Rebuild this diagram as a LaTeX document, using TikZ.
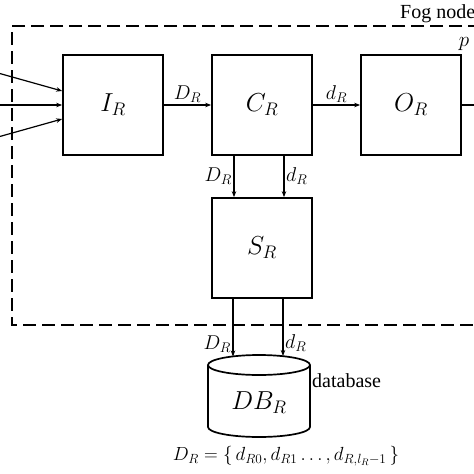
\RequirePackage{fix-cm}
\documentclass[tikz,border=0pt]{standalone}
\usepackage{fontspec}
\setmainfont{Liberation Serif}
\usetikzlibrary{arrows.meta}
\begin{document}
\begin{tikzpicture}[x=1pt,y=-1pt,
  blk/.style={draw,line width=1.7pt,minimum width=100pt,minimum height=100pt,inner sep=0pt,font=\fontsize{26}{28}\selectfont},
  arr/.style={line width=1.2pt,-{Stealth[length=6pt,width=4.5pt]}},
  lbl/.style={font=\fontsize{20}{22}\selectfont,inner sep=1.5pt},
  fence/.style={line width=1.8pt,dash pattern=on 13pt off 6pt}]
\useasboundingbox (0,0) rectangle (474,474);
\clip (0,0) rectangle (474,474);
% fog node frame
\draw[fence] (500,26) -- (12,26) -- (12,325) -- (500,325);
\node[anchor=base west,font=\fontsize{20}{22}\selectfont,inner sep=0pt] (fog) at (400,18) {Fog node};
% blocks
\node[blk] (I) at (113,105) {$I_R$};
\node[blk] (C) at (262,105) {$C_R$};
\node[blk] (O) at (411,105) {$O_R$};
\node[blk] (S) at (262,248) {$S_R$};
\node[anchor=south,font=\fontsize{21}{23}\selectfont,inner sep=1pt] (p) at (464,52) {$p$};
% inputs
\coordinate (in1) at (-2,73);
\coordinate (in2) at (-2,105);
\coordinate (in3) at (-2,137);
\draw[arr] (in1) -- ([yshift=14pt]I.west);
\draw[arr] (in2) -- (I.west);
\draw[arr] (in3) -- ([yshift=-14pt]I.west);
% horizontal flow
\draw[arr] (I.east) -- node[lbl,above] {$D_R$} (C.west);
\draw[arr] (C.east) -- node[lbl,above] {$d_R$} (O.west);
\coordinate (out) at (490,105);
\draw[line width=1.2pt] (O.east) -- (out);
% C to S
\coordinate (xa) at (234,0);
\coordinate (xb) at (284,0);
\draw[arr] (C.south -| xa) -- node[lbl,left] {$D_R$} (S.north -| xa);
\draw[arr] (C.south -| xb) -- node[lbl,right] {$d_R$} (S.north -| xb);
% database cylinder
\coordinate (dbc) at (259,365);
\draw[line width=1.7pt] (208,365) -- (208,427) arc[start angle=180,end angle=360,x radius=51,y radius=-10] -- (310,365);
\draw[line width=1.7pt] (dbc) ellipse[x radius=51,y radius=10];
\node[font=\fontsize{26}{28}\selectfont] (db) at (259,403) {$DB_R$};
\coordinate (da) at (233,356.5);
\coordinate (dbb) at (283,356);
\draw[arr] (S.south -| da) -- node[lbl,left,pos=0.78] {$D_R$} (da);
\draw[arr] (S.south -| dbb) -- node[lbl,right,pos=0.78] {$d_R$} (dbb);
\node[anchor=west,font=\fontsize{20}{22}\selectfont,inner sep=0pt] (dblbl) at (312,381) {database};
% formula
\node[font=\fontsize{19}{21}\selectfont] (form) at (286,456) {$D_R=\{\,d_{R0},d_{R1}\ldots,d_{R,l_R-1}\,\}$};
\end{tikzpicture}
\end{document}
